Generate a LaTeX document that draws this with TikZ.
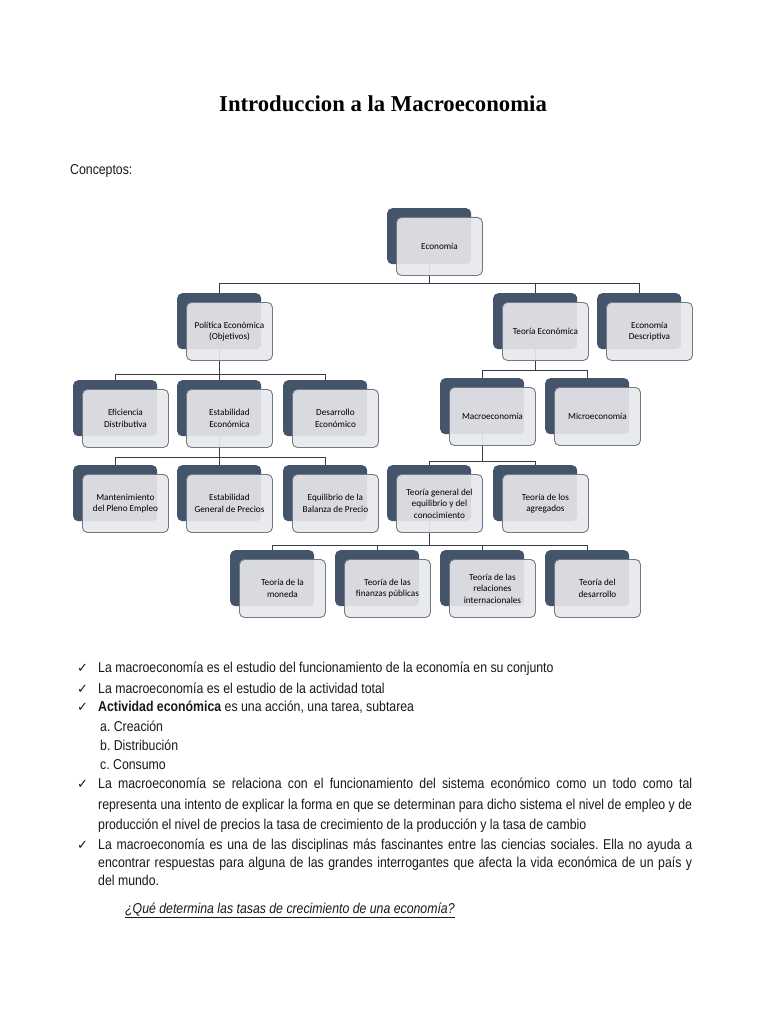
\documentclass[tikz,border=0pt]{standalone}
\usepackage{fontspec}
\setmainfont{Liberation Serif}
\newfontfamily\calfont{Carlito}
\newfontfamily\narfont[FakeStretch=0.86]{Liberation Sans}
\newfontfamily\symfont{DejaVu Sans}
\pgfdeclarelayer{background}
\pgfsetlayers{background,main}
\definecolor{darkbox}{RGB}{68,84,106}
\definecolor{frontfill}{RGB}{231,232,236}
\definecolor{frontline}{RGB}{115,121,132}
\definecolor{connclr}{RGB}{55,62,74}
\frenchspacing
\tikzset{
 backbox/.style={draw=none, fill=darkbox, rounded corners=5pt, minimum width=84pt, minimum height=56pt, anchor=north west, inner sep=0pt},
 frontbox/.style={draw=frontline, line width=0.9pt, fill=frontfill, fill opacity=0.91, text opacity=1, rounded corners=5pt, minimum width=86pt, minimum height=58pt, anchor=north west, inner sep=1pt, align=center, font=\calfont\fontsize{9.2}{11.5}\selectfont, text=black},
 connline/.style={draw=connclr, line width=0.9pt},
 bodytext/.style={anchor=base west, inner sep=0pt, font=\narfont\fontsize{14.3}{19}\selectfont, text=black!90},
 checkmk/.style={anchor=base west, inner sep=0pt, font=\symfont\fontsize{13}{13}\selectfont, text=black!90},
}
\newcommand\orgbox[4]{%
 \node[backbox] (#1-b) at (#2,#3) {};
 \node[frontbox] (#1) at ({#2+9},{#3+9}) {#4};}
\begin{document}
\begin{tikzpicture}[x=1pt,y=-1pt]
\useasboundingbox (0,0) rectangle (768,1024);

\node[anchor=base, inner sep=0pt, font=\bfseries\fontsize{22.7}{26}\selectfont] (title) at (383,112) {Introduccion a la Macroeconomia};
\node[bodytext] (conc) at (70,175) {Conceptos:};

% boxes
\orgbox{eco}{387}{208}{Economía}
\orgbox{pol}{177}{293}{Política Económica\\(Objetivos)}
\orgbox{teo}{493}{293}{Teoría Económica}
\orgbox{des}{597}{293}{Economía\\Descriptiva}
\orgbox{efi}{73}{380}{Eficiencia\\Distributiva}
\orgbox{este}{177}{380}{Estabilidad\\Económica}
\orgbox{dese}{283}{380}{Desarrollo\\Económico}
\orgbox{mac}{440}{378}{Macroeconomía}
\orgbox{mic}{545}{378}{Microeconomía}
\orgbox{man}{73}{465}{Mantenimiento\\del Pleno Empleo}
\orgbox{estg}{177}{465}{Estabilidad\\General de Precios}
\orgbox{equ}{283}{465}{Equilibrio de la\\Balanza de Precio}
\orgbox{tge}{387}{465}{Teoría general del\\equilibrio y del\\conocimiento}
\orgbox{agr}{493}{465}{Teoría de los\\agregados}
\orgbox{mon}{230}{550}{Teoría de la\\moneda}
\orgbox{fin}{335}{550}{Teoría de las\\finanzas públicas}
\orgbox{rel}{440}{550}{Teoría de las\\relaciones\\internacionales}
\orgbox{dsr}{545}{550}{Teoría del\\desarrollo}

\coordinate (bar1) at (0,283);
\coordinate (bar2) at (0,374);
\coordinate (bar3) at (0,370);
\coordinate (bar4) at (0,457);
\coordinate (bar5) at (0,461);
\coordinate (bar6) at (0,545);

\begin{pgfonlayer}{background}
\fill[white] (0,0) rectangle (768,1024);
\foreach \c in {pol,teo,des} \draw[connline] (eco-b.center) -- (eco-b.center |- bar1) -| (\c-b.center);
\foreach \c in {efi,este,dese} \draw[connline] (pol-b.center) -- (pol-b.center |- bar2) -| (\c-b.center);
\foreach \c in {mac,mic} \draw[connline] (teo-b.center) -- (teo-b.center |- bar3) -| (\c-b.center);
\foreach \c in {man,estg,equ} \draw[connline] (este-b.center) -- (este-b.center |- bar4) -| (\c-b.center);
\foreach \c in {tge,agr} \draw[connline] (mac-b.center) -- (mac-b.center |- bar5) -| (\c-b.center);
\foreach \c in {mon,fin,rel,dsr} \draw[connline] (tge-b.center) -- (tge-b.center |- bar6) -| (\c-b.center);
\end{pgfonlayer}

% text list
\node[checkmk] (k1) at (77,672) {✓};
\node[bodytext] (t1) at (98,672) {La macroeconomía es el estudio del funcionamiento de la economía en su conjunto};
\node[checkmk] (k2) at (77,693) {✓};
\node[bodytext] (t2) at (98,693) {La macroeconomía es el estudio de la actividad total};
\node[checkmk] (k3) at (77,711) {✓};
\node[bodytext] (t3) at (98,711) {\textbf{Actividad económica} es una acción, una tarea, subtarea};
\node[bodytext] (t4) at (100,731) {a. Creación};
\node[bodytext] (t5) at (100,750) {b. Distribución};
\node[bodytext] (t6) at (100,769) {c. Consumo};
\node[checkmk] (k4) at (77,788) {✓};
\node[bodytext] (t7) at (98,788) {\makebox[594pt][s]{La macroeconomía se relaciona con el funcionamiento del sistema económico como un todo como tal}};
\node[bodytext] (t8) at (98,809) {\makebox[594pt][s]{representa una intento de explicar la forma en que se determinan para dicho sistema el nivel de empleo y de}};
\node[bodytext] (t9) at (98,829) {producción el nivel de precios la tasa de crecimiento de la producción y la tasa de cambio};
\node[checkmk] (k5) at (77,849) {✓};
\node[bodytext] (t10) at (98,849) {\makebox[594pt][s]{La macroeconomía es una de las disciplinas más fascinantes entre las ciencias sociales. Ella no ayuda a}};
\node[bodytext] (t11) at (98,867) {\makebox[594pt][s]{encontrar respuestas para alguna de las grandes interrogantes que afecta la vida económica de un país y}};
\node[bodytext] (t12) at (98,885) {del mundo.};
\node[bodytext, font=\narfont\itshape\fontsize{14.3}{19}\selectfont] (q) at (125,913) {\underline{¿Qué determina las tasas de crecimiento de una economía?}};
\end{tikzpicture}
\end{document}
